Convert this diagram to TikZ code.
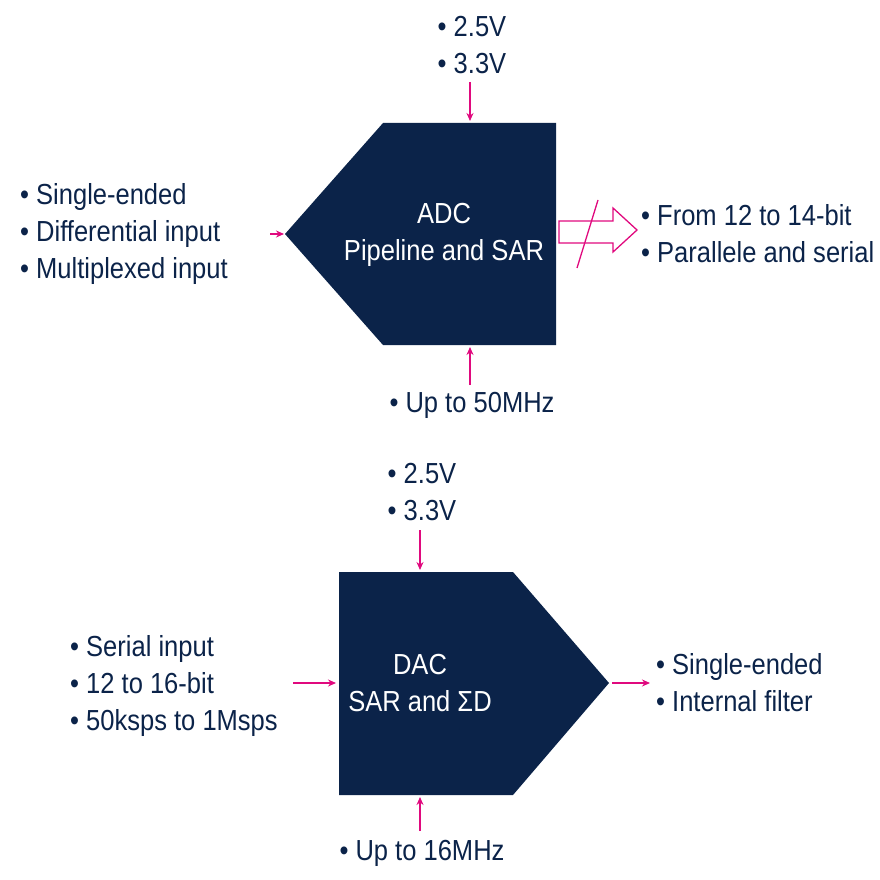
\documentclass[tikz,border=0pt]{standalone}
\usepackage{fontspec}
\setmainfont{Liberation Sans}[FakeStretch=0.88]
\usetikzlibrary{arrows.meta}
\definecolor{navy}{HTML}{0B2349}
\definecolor{magenta}{HTML}{E0097E}
\tikzset{
  block/.style={fill=navy, draw=none},
  feed/.style={draw=magenta, line width=1.3pt, -{Stealth[length=8pt,width=7pt]}},
  lbl/.style={text=navy, font=\fontsize{29}{37}\selectfont, align=left, inner sep=0pt},
  title/.style={text=white, font=\fontsize{29}{37}\selectfont, align=center, inner sep=0pt}
}
\newcommand{\pt}{\textbullet\ }
\begin{document}
\begin{tikzpicture}[x=1pt, y=-1pt]
  \useasboundingbox (0,0) rectangle (880,880);
  % ADC block
  \fill[block] (285,234) -- (383,123) -- (556,123) -- (556,345) -- (383,345) -- cycle;
  \node[title] (adc) at (444,235) {ADC\\Pipeline and SAR};
  \node[lbl] (adcV) at (472,45) {\pt 2.5V\\\pt 3.3V};
  \node[lbl, anchor=west] (adcIn) at (20,234) {\pt Single-ended\\\pt Differential input\\\pt Multiplexed input};
  \node[lbl] (adcClk) at (472,405) {\pt Up to 50MHz};
  \node[lbl, anchor=west] (adcOut) at (641,234) {\pt From 12 to 14-bit\\\pt Parallele and serial};
  \coordinate (adcVs) at (470,82);   \coordinate (adcT) at (470,121);
  \coordinate (adcInS) at (270,234); \coordinate (adcL) at (284,234);
  \coordinate (adcClkS) at (470,385); \coordinate (adcB) at (470,347);
  \draw[feed] (adcVs) -- (adcT);
  \draw[feed] (adcInS) -- (adcL);
  \draw[feed] (adcClkS) -- (adcB);
  % hollow bus arrow
  \draw[magenta, line width=1.3pt, line join=miter]
    (559,221) -- (613,221) -- (613,208) -- (637,230) -- (613,252) -- (613,243) -- (559,243) -- cycle;
  \draw[magenta, line width=1.3pt] (577,268) -- (598,200);
  % DAC block
  \fill[block] (339,572) -- (513,572) -- (609,683) -- (513,795) -- (339,795) -- cycle;
  \node[title] (dac) at (420,683) {DAC\\SAR and ΣD};
  \node[lbl] (dacV) at (422,492) {\pt 2.5V\\\pt 3.3V};
  \node[lbl, anchor=west] (dacIn) at (70,686) {\pt Serial input\\\pt 12 to 16-bit\\\pt 50ksps to 1Msps};
  \node[lbl] (dacClk) at (422,853) {\pt Up to 16MHz};
  \node[lbl, anchor=west] (dacOut) at (656,683) {\pt Single-ended\\\pt Internal filter};
  \coordinate (dacVs) at (420,530);  \coordinate (dacT) at (420,570);
  \coordinate (dacInS) at (293,683); \coordinate (dacL) at (336,683);
  \coordinate (dacClkS) at (420,831); \coordinate (dacB) at (420,797);
  \coordinate (dacR) at (612,683);   \coordinate (dacOutE) at (650,683);
  \draw[feed] (dacVs) -- (dacT);
  \draw[feed] (dacInS) -- (dacL);
  \draw[feed] (dacClkS) -- (dacB);
  \draw[feed] (dacR) -- (dacOutE);
\end{tikzpicture}
\end{document}
